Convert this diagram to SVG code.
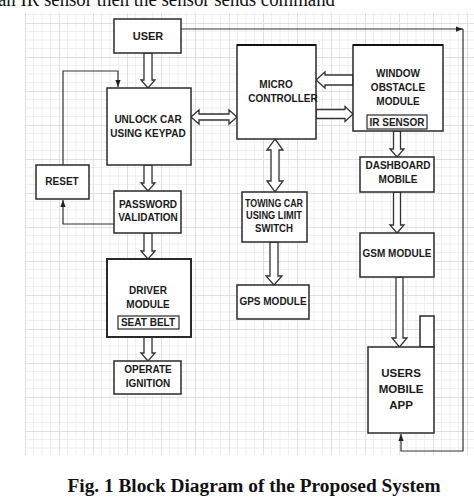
<svg xmlns="http://www.w3.org/2000/svg" width="474" height="500" viewBox="0 0 474 500">
<style>
.box{fill:#fff;stroke:#2a2a2a;stroke-width:1.5}
.inner{fill:#fff;stroke:#2a2a2a;stroke-width:1.2}
.t{font-family:"Liberation Sans",Arial,sans-serif;font-weight:bold;font-size:10px;fill:#1a1a1a;text-anchor:middle}
.big{font-size:11.5px}
.sm{font-size:10px}
.blk{fill:#fff;stroke:#333;stroke-width:1.3;stroke-linejoin:miter}
.ln{fill:none;stroke:#333;stroke-width:1.2}
.cap{font-family:"Liberation Serif","Times New Roman",serif;font-weight:bold;font-size:18px;fill:#111;text-anchor:middle}
.top{font-family:"Liberation Serif","Times New Roman",serif;font-size:20px;fill:#111}
</style>
<defs>
<pattern id="grid" width="34" height="34" patternUnits="userSpaceOnUse" x="25" y="23">
<rect width="34" height="34" fill="#fff"/>
<path d="M8.5 0V34M17 0V34M25.5 0V34M0 8.5H34M0 17H34M0 25.5H34" stroke="#f0f0f0" stroke-width="1"/>
<path d="M0.5 0V34M0 0.5H34" stroke="#e0e0e0" stroke-width="1"/>
</pattern>
<marker id="ah" viewBox="0 0 8 6" refX="8" refY="3" markerWidth="7" markerHeight="6" markerUnits="userSpaceOnUse" orient="auto">
<path d="M0,0 L8,3 L0,6 Z" fill="#222"/>
</marker>
</defs>
<rect width="474" height="500" fill="#fff"/>
<rect x="25" y="13" width="449" height="442" fill="url(#grid)"/>
<text class="top" x="-2" y="6" textLength="337" lengthAdjust="spacingAndGlyphs">an IR sensor then the sensor sends command</text>

<g id="connectors">
<path class="ln" d="M181,29 H463" stroke-width="2" marker-end="url(#ah)"/>
<path class="ln" d="M463,29 V451 H401 V434" marker-end="url(#ah)"/>
<path class="ln" d="M63,165 V71 H118 V87" marker-end="url(#ah)"/>
<path class="ln" d="M114,224 H63 V200" marker-end="url(#ah)"/>
<path class="blk" d="M144,53 L152,53 L152,80 L155,80 L148,88 L141,80 L144,80 Z"/>
<path class="blk" d="M144,165 L152,165 L152,183 L155,183 L148,191 L141,183 L144,183 Z"/>
<path class="blk" d="M144,233 L152,233 L152,251 L155,251 L148,259 L141,251 L144,251 Z"/>
<path class="blk" d="M144,337 L152,337 L152,353 L155,353 L148,361 L141,353 L144,353 Z"/>
<path class="blk" d="M270,242 L278,242 L278,276 L282,276 L274,285 L266,276 L270,276 Z"/>
<path class="blk" d="M393.5,131 L400.5,131 L400.5,149 L404,149 L397,157 L390,149 L393.5,149 Z"/>
<path class="blk" d="M393.5,192 L400.5,192 L400.5,225 L404,225 L397,233 L390,225 L393.5,225 Z"/>
<path class="blk" d="M396,277 L403,277 L403,338 L407,338 L399.5,347 L392,338 L396,338 Z"/>
<path class="blk" d="M353,75 L325,75 L325,72 L316,80 L325,88 L325,85 L353,85 Z"/>
<path class="blk" d="M316,109.5 L345,109.5 L345,106.5 L353,114 L345,121.5 L345,118.5 L316,118.5 Z"/>
<path class="blk" d="M191,117 L199,110 L199,114 L229,114 L229,110 L237,117 L229,124 L229,120 L199,120 L199,124 Z"/>
<path class="blk" d="M275,139 L283,150 L279,150 L279,181 L283,181 L275,192 L267,181 L271,181 L271,150 L267,150 Z"/>
</g>

<g id="user">
<rect class="box" x="114" y="19" width="67" height="34"/>
<text class="t" style="font-size:11px" x="148" y="40">USER</text>
</g>
<g id="unlock">
<rect class="box" x="107" y="88" width="84" height="77"/>
<text class="t" x="148" y="122.5">UNLOCK CAR</text>
<text class="t" x="148" y="136.5">USING KEYPAD</text>
</g>
<g id="reset">
<rect class="box" x="36" y="165" width="53" height="34"/>
<text class="t" x="62" y="184.5">RESET</text>
</g>
<g id="password">
<rect class="box" x="114" y="191" width="67" height="42"/>
<text class="t" x="148" y="207.5">PASSWORD</text>
<text class="t" x="148" y="220.5">VALIDATION</text>
</g>
<g id="driver">
<rect class="box" x="107" y="259" width="84" height="78" style="stroke-width:2"/>
<text class="t" x="148" y="293.5">DRIVER</text>
<text class="t" x="148" y="307.5">MODULE</text>
<rect class="inner" x="118" y="316" width="61" height="13"/>
<text class="t" x="148" y="326">SEAT BELT</text>
</g>
<g id="ignition">
<rect class="box" x="114" y="361" width="67" height="33"/>
<text class="t" x="148" y="372.5">OPERATE</text>
<text class="t" x="148" y="386.5">IGNITION</text>
</g>
<g id="micro">
<rect class="box" x="237" y="45" width="79" height="94"/>
<line x1="237" y1="45" x2="316" y2="45" stroke="#111" stroke-width="2"/>
<text class="t" x="276" y="87.5">MICRO</text>
<text class="t" x="283" y="101.5">CONTROLLER</text>
</g>
<g id="window">
<rect class="box" x="353" y="45" width="90" height="86"/>
<line x1="353" y1="45" x2="443" y2="45" stroke="#111" stroke-width="2"/>
<text class="t" x="398" y="76.5">WINDOW</text>
<text class="t" x="398" y="90.5">OBSTACLE</text>
<text class="t" x="398" y="104.5">MODULE</text>
<rect class="inner" x="367" y="115" width="60" height="14"/>
<text class="t" x="397" y="125.5">IR SENSOR</text>
</g>
<g id="towing">
<rect class="box" x="242" y="192" width="65" height="50"/>
<text class="t sm" x="274" y="206.5" textLength="58" lengthAdjust="spacingAndGlyphs">TOWING CAR</text>
<text class="t sm" x="274" y="218.5" textLength="56" lengthAdjust="spacingAndGlyphs">USING LIMIT</text>
<text class="t sm" x="274" y="231.5" textLength="38" lengthAdjust="spacingAndGlyphs">SWITCH</text>
</g>
<g id="gps">
<rect class="box" x="237" y="285" width="72" height="34"/>
<text class="t" x="273" y="304.5">GPS MODULE</text>
</g>
<g id="dashboard">
<rect class="box" x="360" y="157" width="74" height="35"/>
<text class="t" x="398" y="168.5">DASHBOARD</text>
<text class="t" x="398" y="182.5">MOBILE</text>
</g>
<g id="gsm">
<rect class="box" x="360" y="233" width="74" height="44"/>
<text class="t" x="397" y="256.5">GSM MODULE</text>
</g>
<g id="usersapp">
<rect class="box" x="420" y="316" width="14" height="31"/>
<rect class="box" x="368" y="347" width="66" height="86"/>
<text class="t big" x="401" y="377">USERS</text>
<text class="t big" x="401" y="393">MOBILE</text>
<text class="t big" x="401" y="409">APP</text>
</g>
<text class="cap" x="254" y="492" textLength="373" lengthAdjust="spacingAndGlyphs">Fig. 1 Block Diagram of the Proposed System</text>
</svg>
